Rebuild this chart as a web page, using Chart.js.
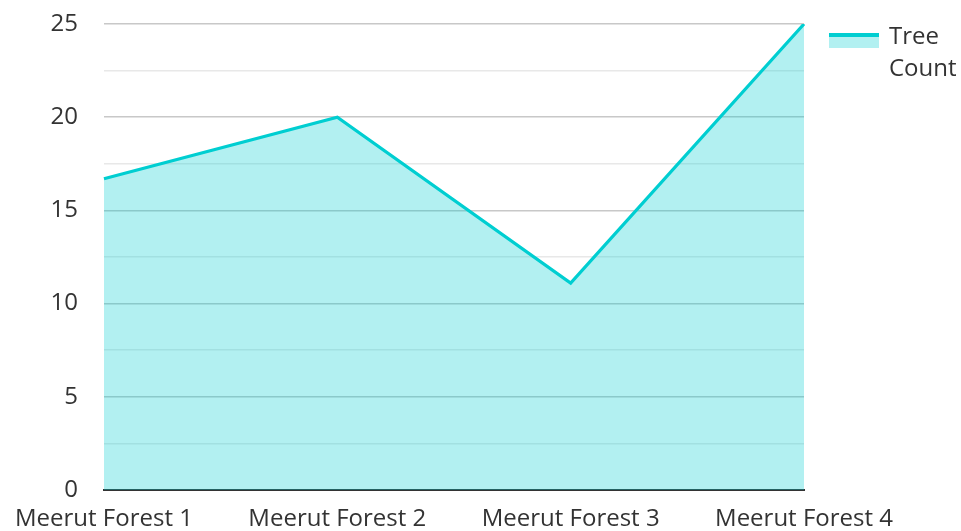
<!DOCTYPE html>
<html>
<head>
<meta charset="utf-8">
<script src="https://cdn.jsdelivr.net/npm/chart.js@4"></script>
<style>
  html, body { margin: 0; padding: 0; background: #fff; }
  #wrap { width: 961px; height: 531px; }
</style>
</head>
<body>
<div id="wrap"><canvas id="myChart"></canvas></div>
<script>
const forests = ['Meerut Forest 1', 'Meerut Forest 2', 'Meerut Forest 3', 'Meerut Forest 4'];
const treeCount = [16.7, 20, 11.1, 25];
const seriesName = ['Tree', 'Count'];

const lineColor = 'rgb(0, 206, 209)';
const fillColor = 'rgba(0, 206, 209, 0.3)';

Chart.defaults.font.family = '"Open Sans", sans-serif';
Chart.defaults.font.size = 24;
Chart.defaults.color = '#333';

// legend on the right: line swatch with fill under it, label on two lines
const sideLegend = {
    id: 'sideLegend',
    afterDraw(chart) {
        const ctx = chart.ctx;
        const area = chart.chartArea;
        const x = area.right + 25;
        const y = area.top + 9;
        ctx.save();
        ctx.fillStyle = fillColor;
        ctx.fillRect(x, y, 50, 15);
        ctx.fillStyle = lineColor;
        ctx.fillRect(x, y, 50, 4);
        ctx.fillStyle = '#333';
        ctx.font = '24px "Open Sans", sans-serif';
        ctx.textBaseline = 'alphabetic';
        ctx.textAlign = 'left';
        seriesName.forEach((line, i) => {
            ctx.fillText(line, x + 60, area.top + 20 + i * 32);
        });
        ctx.restore();
    }
};

new Chart(document.getElementById('myChart'), {
    type: 'line',
    data: {
        labels: forests,
        datasets: [{
            label: seriesName.join(' '),
            data: treeCount,
            borderColor: lineColor,
            backgroundColor: fillColor,
            borderWidth: 3.2,
            fill: 'origin',
            pointRadius: 0,
            tension: 0
        }]
    },
    options: {
        responsive: true,
        maintainAspectRatio: false,
        animation: false,
        layout: { padding: { left: 8, top: 0, right: 157, bottom: 0 } },
        scales: {
            x: {
                grid: { display: false, drawTicks: false },
                border: { color: '#333', width: 2 },
                ticks: { padding: 15, maxRotation: 0, autoSkip: false },
                afterFit: s => {
                    s.height = 41;
                }
            },
            y: {
                min: 0,
                max: 25,
                border: { display: false },
                grid: {
                    drawTicks: false,
                    lineWidth: 1.5,
                    color: c => (c.tick.value % 5 === 0 ? '#c8c8c8' : '#e8e8e8')
                },
                ticks: {
                    stepSize: 2.5,
                    padding: 26,
                    callback: v => (v % 5 === 0 ? v : '')
                },
                afterFit: s => {
                    s.paddingTop = 24;
                    s.paddingBottom = 14;
                }
            }
        },
        plugins: {
            tooltip: { enabled: false },
            legend: { display: false }
        }
    },
    plugins: [sideLegend]
});
</script>
</body>
</html>
